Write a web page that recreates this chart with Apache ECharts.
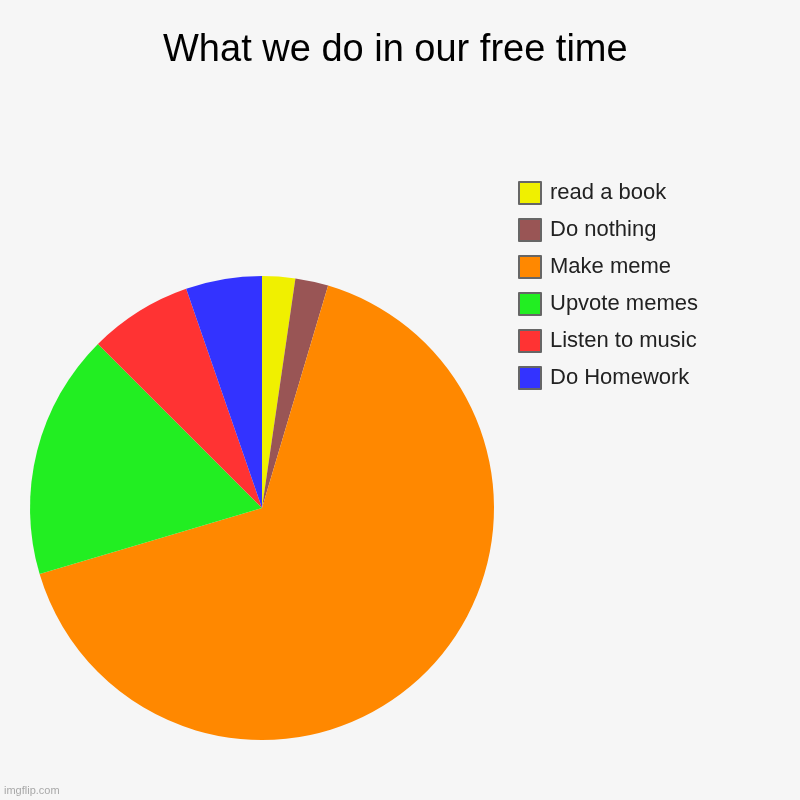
<!DOCTYPE html>
<html>
<head>
<meta charset="utf-8">
<script src="https://cdn.jsdelivr.net/npm/echarts@6/dist/echarts.min.js"></script>
<style>
  html, body { margin: 0; padding: 0; background: #f6f6f6; }
  #main { width: 800px; height: 800px; }
</style>
</head>
<body>
<div id="main"></div>
<script>
// 数据
const categories = ['read a book', 'Do nothing', 'Make meme', 'Upvote memes', 'Listen to music', 'Do Homework']
const values = [2.3, 2.3, 65.8, 17.1, 7.2, 5.3]
const colors = ['#f0f000', '#995555', '#ff8800', '#22ee22', '#ff3333', '#3333ff']

let myChart = echarts.init(document.getElementById('main'))
let option = {
    backgroundColor: '#f6f6f6',
    animation: false,
    title: {
        text: 'What we do in our free time',
        left: 158,
        top: 27,
        textStyle: {
            fontFamily: 'Liberation Sans',
            fontSize: 38,
            fontWeight: 'normal',
            color: '#000'
        }
    },
    legend: {
        orient: 'vertical',
        left: 513,
        top: 176,
        itemWidth: 22,
        itemHeight: 22,
        itemGap: 13,
        icon: 'rect',
        data: categories,
        itemStyle: {
            borderColor: '#666',
            borderWidth: 2
        },
        textStyle: {
            fontFamily: 'Liberation Sans',
            fontSize: 22,
            color: '#222',
            padding: [0, 0, 0, 4]
        }
    },
    graphic: [{
        type: 'text',
        left: 4,
        top: 785,
        style: {
            text: 'imgflip.com',
            fontFamily: 'Liberation Sans',
            fontSize: 11,
            fill: '#a8a8a8'
        }
    }],
    series: [{
        type: 'pie',
        center: [262, 508],
        radius: 232,
        startAngle: 90,
        clockwise: true,
        label: { show: false },
        labelLine: { show: false },
        emphasis: { disabled: true },
        data: categories.map((name, i) => ({
            name: name,
            value: values[i],
            itemStyle: { color: colors[i] }
        }))
    }]
}
myChart.setOption(option)
</script>
</body>
</html>
